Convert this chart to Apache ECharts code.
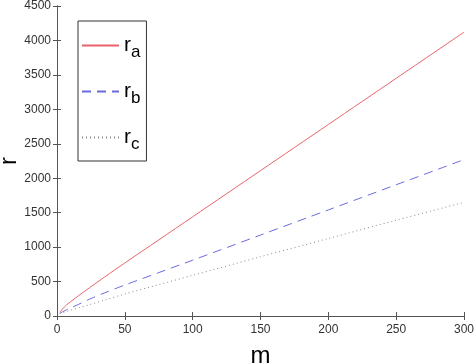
<!DOCTYPE html>
<html>
<head>
<meta charset="utf-8">
<script src="https://cdn.jsdelivr.net/npm/echarts@6/dist/echarts.min.js"></script>
<style>
  html, body { margin: 0; padding: 0; background: #fff; }
  #chart { width: 474px; height: 363px; }
</style>
</head>
<body>
<div id="chart"></div>
<script>
// values
const mValues = [2, 4, 7, 11, 16, 24, 35, 50, 75, 100, 150, 200, 250, 300]
const raValues = [55, 100, 160, 222, 297, 410, 565, 770, 1105, 1440, 2110, 2780, 3450, 4120]
const rbValues = [40, 60, 90, 125, 170, 245, 335, 450, 630, 810, 1175, 1540, 1905, 2270]
const rcValues = [35, 50, 65, 90, 120, 165, 230, 320, 455, 590, 860, 1125, 1390, 1650]
const seriesNames = ['a', 'b', 'c']

const pairs = (ys) => mValues.map((m, i) => [m, ys[i]])

const chart = echarts.init(document.getElementById('chart'))

const axisBase = {
  type: 'value',
  axisLine: { show: true, lineStyle: { color: '#555', width: 1 } },
  axisTick: { show: true, inside: true, length: 4, lineStyle: { color: '#555' } },
  splitLine: { show: false }
}

const tickFont = { fontSize: 12, fontFamily: 'Liberation Sans', color: '#333', formatter: (v) => String(v) }

const option = {
  animation: false,
  grid: { left: 57, right: 10, top: 6, bottom: 47, containLabel: false, outerBoundsMode: 'none' },
  legend: {
    orient: 'vertical',
    left: 78,
    top: 21,
    padding: [9, 6, 8, 3],
    itemWidth: 37,
    itemHeight: 10,
    itemGap: 15,
    borderColor: '#333',
    borderWidth: 1,
    itemStyle: { opacity: 0 },
    data: seriesNames,
    formatter: (name) => '{r|r}{s|' + name + '}',
    textStyle: {
      rich: {
        r: { fontSize: 21, fontFamily: 'Liberation Sans', color: '#000', lineHeight: 28 },
        s: { fontSize: 17, fontFamily: 'Liberation Sans', color: '#000', padding: [14, 0, 0, 0], lineHeight: 28 }
      }
    }
  },
  xAxis: [
    Object.assign({}, axisBase, {
      min: 0, max: 300, interval: 50,
      name: 'm', nameLocation: 'middle', nameGap: 28, nameMoveOverlap: false,
      nameTextStyle: { fontSize: 24, fontFamily: 'Liberation Sans', color: '#000' },
      axisLabel: Object.assign({ margin: 8 }, tickFont)
    }),
    Object.assign({}, axisBase, {
      position: 'top', min: 0, max: 300, interval: 50,
      axisLabel: { show: false }
    })
  ],
  yAxis: [
    Object.assign({}, axisBase, {
      min: 0, max: 4500, interval: 500,
      name: 'r', nameLocation: 'middle', nameGap: 36, nameMoveOverlap: false,
      nameTextStyle: { fontSize: 24, fontFamily: 'Liberation Sans', color: '#000' },
      axisLabel: Object.assign({ margin: 6 }, tickFont)
    }),
    Object.assign({}, axisBase, {
      position: 'right', min: 0, max: 4500, interval: 500,
      axisLabel: { show: false }
    })
  ],
  series: [
    {
      name: 'a', type: 'line', data: pairs(raValues), symbol: 'none', smooth: 0.3,
      color: '#e8636b', lineStyle: { color: '#e8636b', width: 1, type: 'solid' }
    },
    {
      name: 'b', type: 'line', data: pairs(rbValues), symbol: 'none', smooth: 0.3,
      color: '#6a6ae0', lineStyle: { color: '#6a6ae0', width: 1, type: [9, 6] }
    },
    {
      name: 'c', type: 'line', data: pairs(rcValues), symbol: 'none', smooth: 0.3,
      color: '#888', lineStyle: { color: '#888', width: 1, type: [1, 3] }
    }
  ]
}

chart.setOption(option)
</script>
</body>
</html>
